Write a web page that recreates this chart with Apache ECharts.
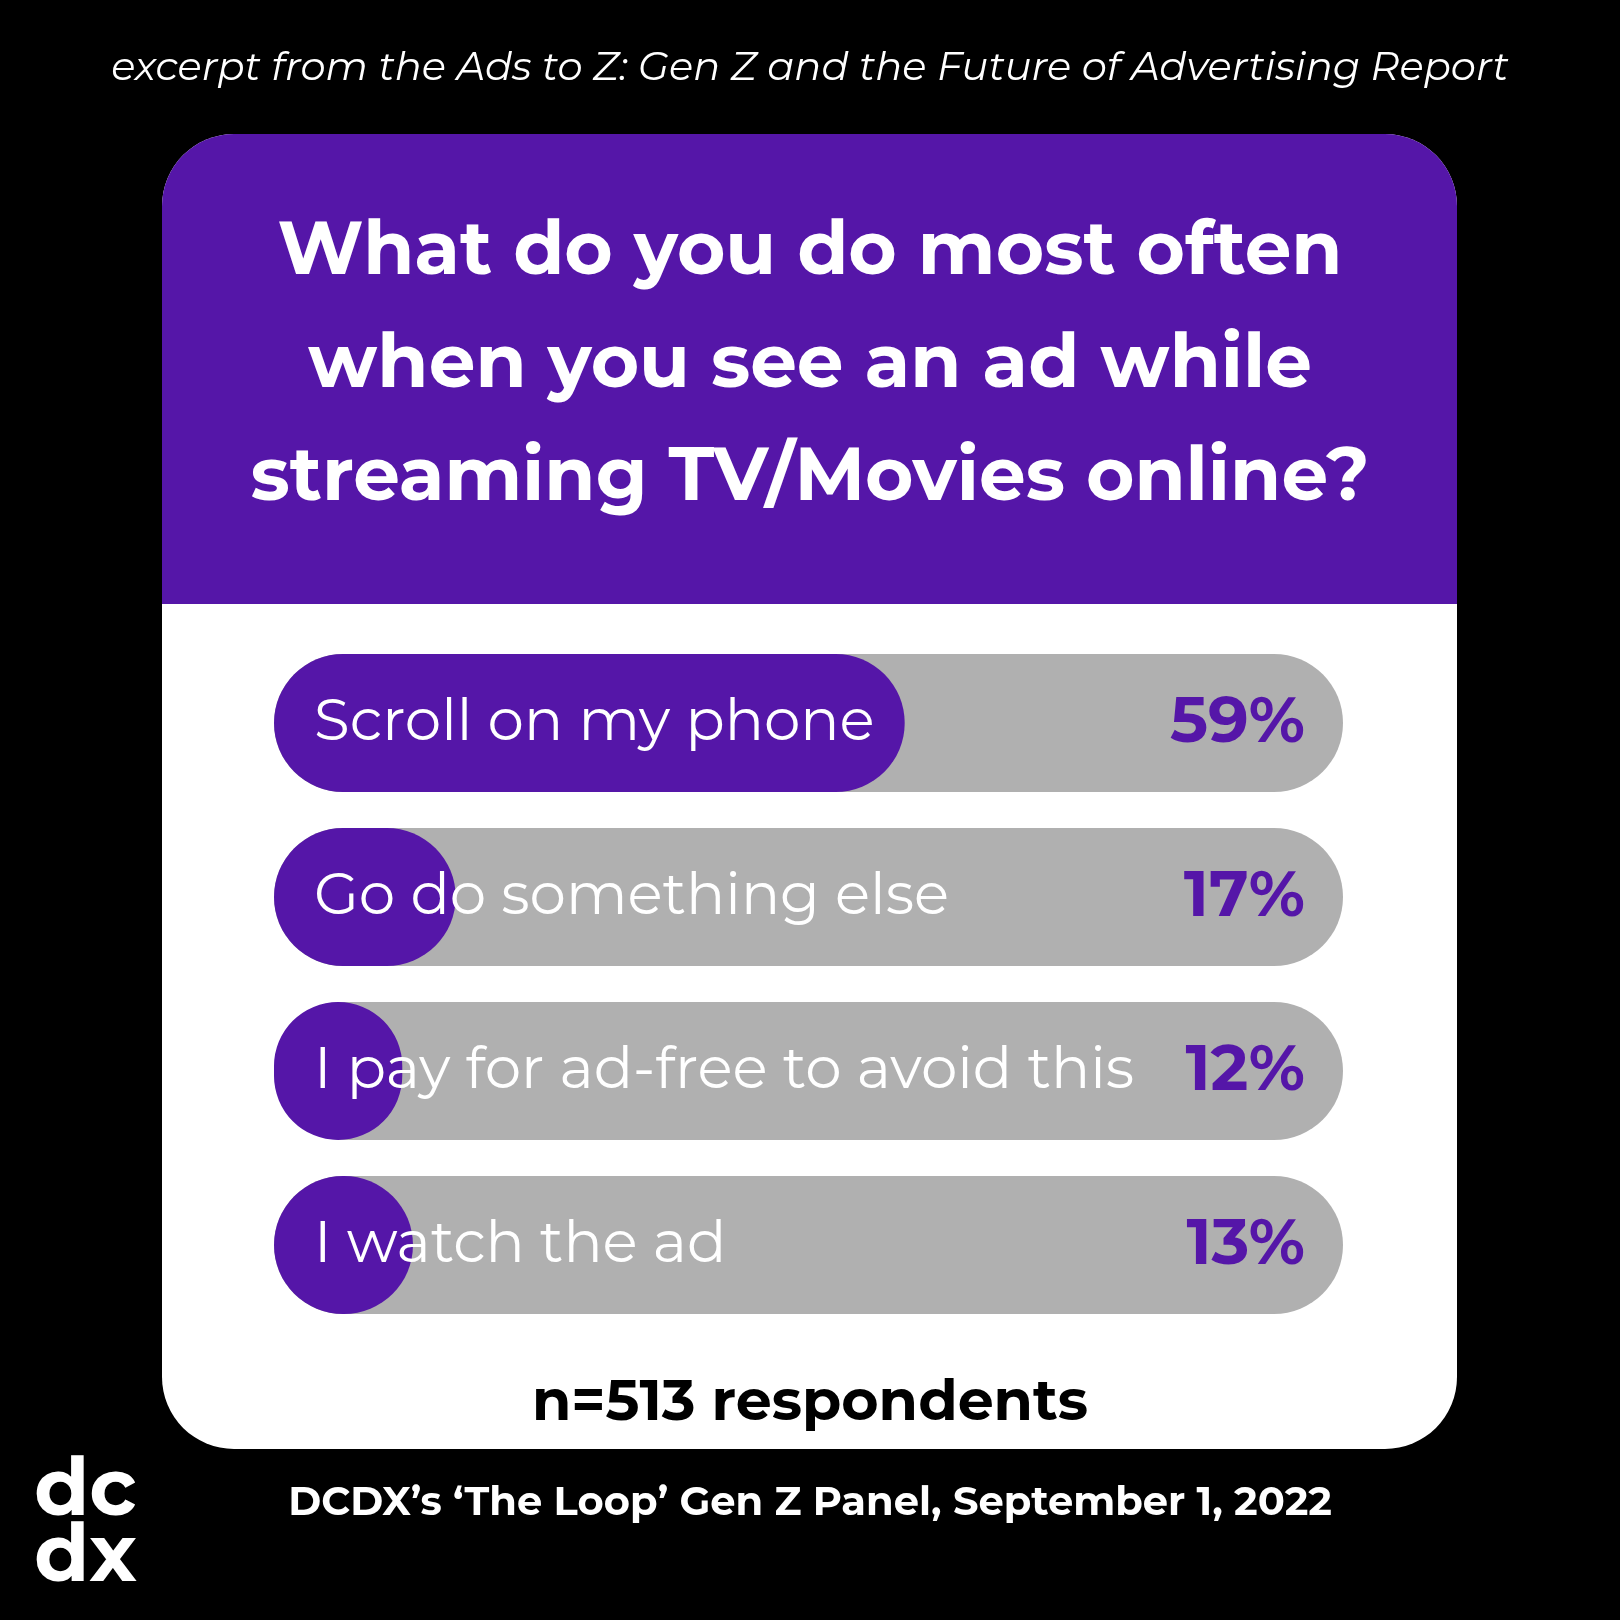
<!DOCTYPE html>
<html>
<head>
<meta charset="utf-8">
<script src="https://cdn.jsdelivr.net/npm/echarts@6/dist/echarts.min.js"></script>
<style>html,body{margin:0;background:#000}#main{width:1620px;height:1620px}</style>
</head>
<body>
<div id="main"></div>
<script>
// survey answers, top to bottom
var categories = ["Scroll on my phone", "Go do something else", "I pay for ad-free to avoid this", "I watch the ad"];
var values = [59, 17, 12, 13];
var pctLabels = ["59%", "17%", "12%", "13%"];

var purple = "#5516a8";
var font = "Montserrat, 'Noto Sans', Lato, sans-serif";
var chart = echarts.init(document.getElementById("main"));

var option = {
  backgroundColor: "#000",
  animation: false,
  graphic: [
    // white card
    { type: "rect", shape: { x: 162, y: 134, width: 1295, height: 1315, r: 72 }, style: { fill: "#fff" }, z: -10 },
    // purple header
    { type: "rect", shape: { x: 162, y: 134, width: 1295, height: 470, r: [72, 72, 0, 0] }, style: { fill: purple }, z: -9 },
    { type: "text", left: "center", top: 48, style: { text: "excerpt from the Ads to Z: Gen Z and the Future of Advertising Report", fill: "#fff", font: "italic 40px " + font } },
    { type: "text", x: 810, y: 365, style: { text: "What do you do most often\nwhen you see an ad while\nstreaming TV/Movies online?", fill: "#fff", font: "bold 74px " + font, textAlign: "center", textVerticalAlign: "middle", lineHeight: 113 } },
    { type: "text", x: 810, y: 1403, style: { text: "n=513 respondents", fill: "#000", font: "bold 57px " + font, textAlign: "center", textVerticalAlign: "middle" } },
    { type: "text", x: 810, y: 1503, style: { text: "DCDX\u2019s \u2018The Loop\u2019 Gen Z Panel, September 1, 2022", fill: "#fff", font: "bold 40px " + font, textAlign: "center", textVerticalAlign: "middle" } },
    { type: "text", x: 34, y: 1458, style: { text: "dc\ndx", fill: "#fff", font: "bold 80px " + font, lineHeight: 66 } }
  ],
  grid: { left: 274, width: 1069, top: 636, height: 696 },
  xAxis: { type: "value", min: 0, max: 100, show: false },
  yAxis: [
    {
      type: "category", data: categories, inverse: true, z: 10,
      axisLine: { show: false }, axisTick: { show: false },
      axisLabel: { inside: true, margin: 40, color: "#fff", fontSize: 58, fontFamily: font }
    },
    {
      type: "category", data: pctLabels, inverse: true, position: "right", z: 10,
      axisLine: { show: false }, axisTick: { show: false },
      axisLabel: { inside: true, margin: 38, color: purple, fontSize: 64, fontWeight: "bold", fontFamily: font }
    }
  ],
  series: [{
    type: "bar",
    data: values,
    barWidth: 138,
    itemStyle: { color: purple, borderRadius: 69 },
    showBackground: true,
    backgroundStyle: { color: "#b0b0b0", borderRadius: 69 }
  }]
};
chart.setOption(option);
</script>
</body>
</html>
